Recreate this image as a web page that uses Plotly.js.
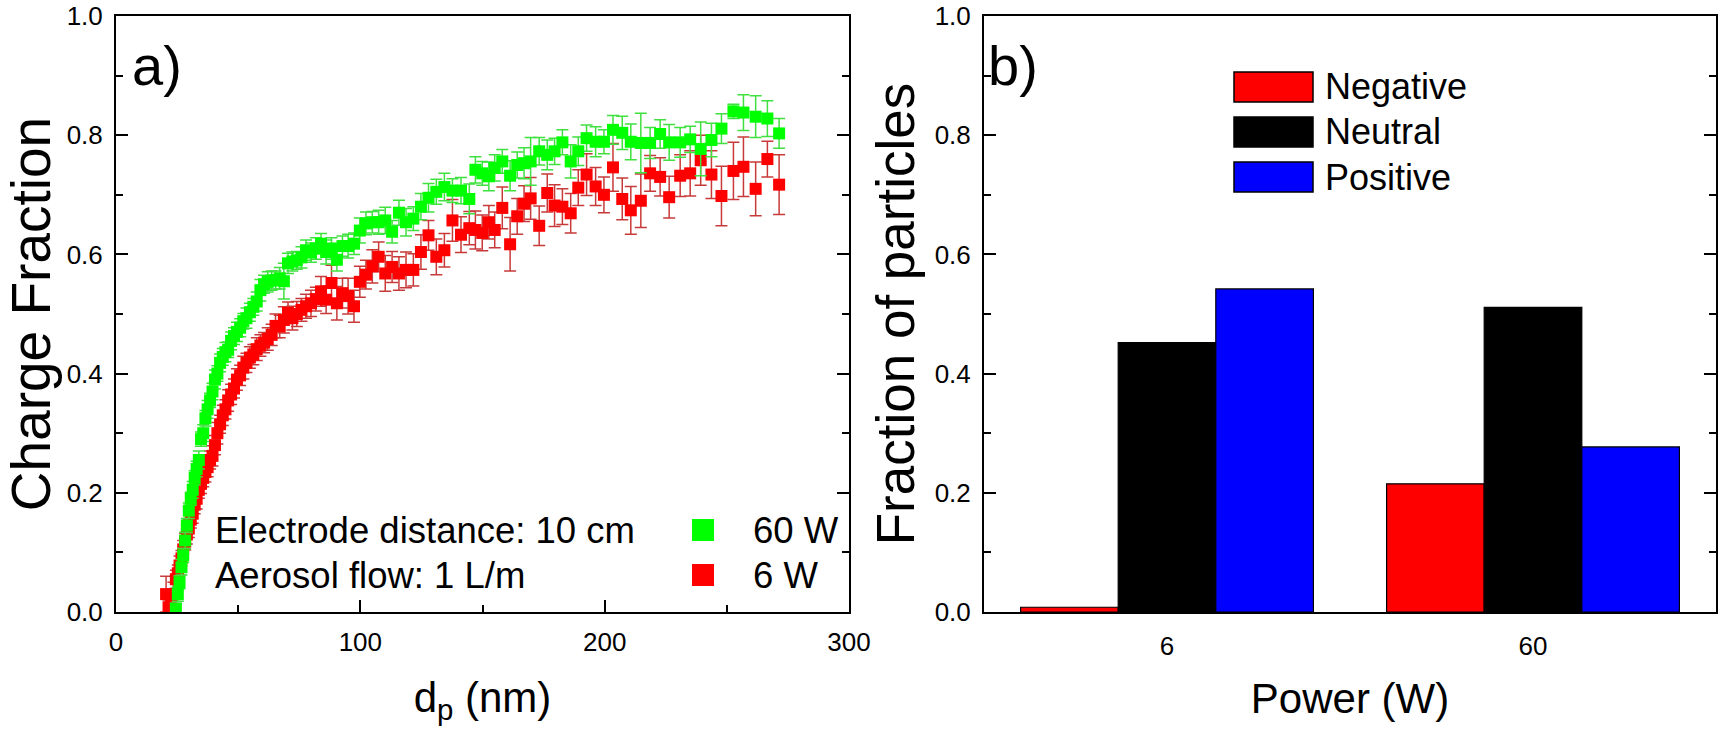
<!DOCTYPE html>
<html>
<head>
<meta charset="utf-8">
<script src="https://cdn.plot.ly/plotly-3.0.1.min.js"></script>
<style>html,body{margin:0;padding:0;background:#fff;}#chart{width:1720px;height:735px;}</style>
</head>
<body>
<div id="chart"></div>
<script>
// ---------- Data: panel a) charge fraction vs particle diameter ----------
const dp = [20.5, 21.5, 22.5, 23.5, 24.5, 25.3, 26.0, 26.8, 27.5, 28.3,
  29.0, 29.8, 30.6, 31.4, 32.2, 33.0, 33.9, 34.8, 35.7, 36.6,
  37.5, 38.5, 39.5, 40.5, 41.5, 42.6, 43.7, 44.8, 45.9, 47.1,
  48.3, 49.5, 50.8, 52.1, 53.4, 54.8, 56.2, 57.6, 59.1, 60.6,
  62.1, 63.7, 65.3, 67.0, 68.7, 70.4, 72.2, 74.0, 75.9, 77.8,
  79.8, 81.8, 83.9, 86.0, 88.2, 90.4, 92.7, 95.0, 97.4, 99.8,
  102.3, 104.9, 107.5, 110.2, 113.0, 115.8, 118.7, 121.7, 124.8, 127.9,
  131.1, 134.4, 137.7, 141.2, 144.6, 147.1, 149.9, 152.6, 155.0, 158.1,
  161.3, 164.2, 167.0, 169.7, 173.2, 176.5, 179.5, 182.7, 186.1, 189.2,
  192.6, 196.3, 199.7, 203.4, 207.2, 210.7, 214.8, 218.6, 222.7, 226.4,
  230.9, 235.0, 239.3, 243.7, 247.8, 252.7, 256.8, 261.8, 266.6, 271.4];

const frac60W = [null, null, null, null, 0.005, 0.03, 0.05, 0.075, 0.095, 0.12,
  0.145, 0.17, 0.19, 0.205, 0.225, 0.24, 0.255, 0.29, 0.30, 0.325,
  0.34, 0.355, 0.37, 0.39, 0.40, 0.418, 0.428, 0.436, 0.44, 0.455,
  0.463, 0.47, 0.477, 0.488, 0.493, 0.503, 0.512, 0.521, 0.54, 0.55,
  0.554, 0.556, 0.557, 0.56, 0.555, 0.585, 0.588, 0.59, 0.595, 0.607,
  0.603, 0.61, 0.618, 0.604, 0.61, 0.591, 0.614, 0.614, 0.618, 0.64,
  0.652, 0.654, 0.654, 0.657, 0.638, 0.67, 0.654, 0.66, 0.68, 0.695,
  0.705, 0.713, 0.707, 0.707, 0.693, 0.742, 0.736, 0.731, 0.745, 0.756,
  0.732, 0.75, 0.753, 0.756, 0.773, 0.767, 0.773, 0.788, 0.756, 0.773,
  0.795, 0.789, 0.789, 0.809, 0.804, 0.789, 0.787, 0.787, 0.802, 0.788,
  0.788, 0.793, 0.777, 0.792, 0.811, 0.84, 0.838, 0.831, 0.828, 0.803];

const err60W = [0, 0, 0, 0, 0.010, 0.012, 0.011, 0.013, 0.012, 0.014,
  0.012, 0.013, 0.011, 0.014, 0.012, 0.013, 0.015, 0.012, 0.014, 0.013,
  0.015, 0.012, 0.014, 0.016, 0.013, 0.015, 0.014, 0.016, 0.013, 0.015,
  0.014, 0.016, 0.015, 0.013, 0.017, 0.015, 0.014, 0.016, 0.018, 0.015,
  0.017, 0.016, 0.015, 0.018, 0.030, 0.017, 0.016, 0.015, 0.018, 0.017,
  0.016, 0.018, 0.017, 0.020, 0.018, 0.019, 0.017, 0.020, 0.018, 0.021,
  0.019, 0.018, 0.020, 0.022, 0.019, 0.021, 0.023, 0.020, 0.022, 0.024,
  0.021, 0.023, 0.020, 0.022, 0.025, 0.022, 0.020, 0.024, 0.022, 0.020,
  0.025, 0.022, 0.026, 0.040, 0.023, 0.025, 0.022, 0.021, 0.028, 0.024,
  0.022, 0.025, 0.020, 0.024, 0.028, 0.030, 0.050, 0.026, 0.024, 0.030,
  0.025, 0.022, 0.045, 0.028, 0.025, 0.012, 0.030, 0.035, 0.030, 0.025];

const frac6W = [0.03, 0.008, 0.012, 0.03, 0.055, 0.065, 0.078, 0.09, 0.105, 0.118,
  0.13, 0.14, 0.155, 0.165, 0.18, 0.19, 0.205, 0.215, 0.225, 0.235,
  0.243, 0.255, 0.262, 0.28, 0.3, 0.315, 0.33, 0.34, 0.355, 0.365,
  0.375, 0.39, 0.397, 0.41, 0.418, 0.427, 0.432, 0.441, 0.447, 0.452,
  0.458, 0.465, 0.48, 0.479, 0.49, 0.502, 0.493, 0.5, 0.507, 0.513,
  0.518, 0.525, 0.538, 0.524, 0.552, 0.518, 0.535, 0.53, 0.513, 0.554,
  0.566, 0.58, 0.596, 0.568, 0.579, 0.568, 0.574, 0.574, 0.604, 0.632,
  0.596, 0.607, 0.657, 0.633, 0.644, 0.641, 0.636, 0.654, 0.641, 0.678,
  0.617, 0.664, 0.685, 0.694, 0.648, 0.703, 0.682, 0.68, 0.669, 0.712,
  0.734, 0.714, 0.7, 0.746, 0.693, 0.674, 0.69, 0.736, 0.73, 0.696,
  0.732, 0.736, 0.758, 0.734, 0.698, 0.74, 0.747, 0.71, 0.76, 0.717];

const err6W = [0.03, 0.012, 0.015, 0.02, 0.015, 0.014, 0.016, 0.013, 0.015, 0.014,
  0.016, 0.015, 0.014, 0.016, 0.015, 0.017, 0.014, 0.016, 0.015, 0.017,
  0.016, 0.015, 0.017, 0.016, 0.018, 0.015, 0.017, 0.016, 0.018, 0.017,
  0.016, 0.018, 0.017, 0.019, 0.016, 0.018, 0.017, 0.019, 0.018, 0.017,
  0.019, 0.018, 0.020, 0.019, 0.022, 0.018, 0.020, 0.021, 0.019, 0.020,
  0.022, 0.020, 0.025, 0.023, 0.030, 0.028, 0.025, 0.030, 0.027, 0.026,
  0.024, 0.028, 0.025, 0.030, 0.026, 0.028, 0.030, 0.027, 0.029, 0.025,
  0.030, 0.028, 0.035, 0.030, 0.028, 0.032, 0.030, 0.028, 0.030, 0.035,
  0.045, 0.030, 0.030, 0.035, 0.033, 0.032, 0.035, 0.030, 0.033, 0.030,
  0.035, 0.032, 0.030, 0.040, 0.035, 0.040, 0.045, 0.030, 0.032, 0.035,
  0.035, 0.038, 0.042, 0.040, 0.050, 0.048, 0.050, 0.045, 0.030, 0.050];

const seriesNamesA = ['60 W', '6 W'];
const noteLines = ['Electrode distance: 10 cm', 'Aerosol flow: 1 L/m'];

// ---------- Data: panel b) fraction of particles by power ----------
const powerCats = ['6', '60'];
const chargeStates = ['Negative', 'Neutral', 'Positive'];
const fracNegative = [0.008, 0.215];
const fracNeutral  = [0.452, 0.511];
const fracPositive = [0.542, 0.277];

// ---------- Styling ----------
const FONT = 'Liberation Sans, Arial, Helvetica, sans-serif';
const W = 1720, H = 735;
const px = x => x / W;
const py = y => 1 - y / H;
const green = '#00ff00', red = '#ff0000';

const traces = [
  {
    x: dp, y: frac6W, type: 'scatter', mode: 'markers', name: seriesNamesA[1],
    xaxis: 'x', yaxis: 'y',
    marker: {symbol: 'square', size: 12, color: red},
    error_y: {type: 'data', array: err6W, visible: true, color: '#c83a3a', thickness: 1.5, width: 6}
  },
  {
    x: dp, y: frac60W, type: 'scatter', mode: 'markers', name: seriesNamesA[0],
    xaxis: 'x', yaxis: 'y',
    marker: {symbol: 'square', size: 12, color: green},
    error_y: {type: 'data', array: err60W, visible: true, color: '#3fe03f', thickness: 1.5, width: 6}
  },
  {
    x: powerCats, y: fracNegative, type: 'bar', name: chargeStates[0], xaxis: 'x2', yaxis: 'y2',
    marker: {color: '#ff0000', line: {color: '#000', width: 1.2}}
  },
  {
    x: powerCats, y: fracNeutral, type: 'bar', name: chargeStates[1], xaxis: 'x2', yaxis: 'y2',
    marker: {color: '#000000', line: {color: '#000', width: 1.2}}
  },
  {
    x: powerCats, y: fracPositive, type: 'bar', name: chargeStates[2], xaxis: 'x2', yaxis: 'y2',
    marker: {color: '#0000ff', line: {color: '#000', width: 1.2}}
  }
];

const commonY = {
  range: [0, 1], dtick: 0.2, tick0: 0, tickformat: '.1f',
  showline: true, linecolor: '#000', linewidth: 2, mirror: 'ticks',
  ticks: 'inside', ticklen: 12, tickwidth: 2, tickcolor: '#000',
  minor: {dtick: 0.1, ticks: 'inside', ticklen: 7, tickwidth: 2, tickcolor: '#000'},
  showgrid: false, zeroline: false, fixedrange: true,
  tickfont: {size: 26, family: FONT, color: '#000'},
  ticklabelstandoff: 6
};

const layout = {
  width: W, height: H,
  margin: {l: 0, r: 0, t: 0, b: 0},
  paper_bgcolor: '#fff', plot_bgcolor: '#fff',
  showlegend: false,
  font: {family: FONT, color: '#000', size: 26},
  barmode: 'group', bargap: 0.2, bargroupgap: 0,
  xaxis: {
    domain: [px(116), px(849)], anchor: 'y', range: [0, 300], dtick: 100, tick0: 0,
    showline: true, linecolor: '#000', linewidth: 2, mirror: true,
    ticks: 'inside', ticklen: 12, tickwidth: 2, tickcolor: '#000',
    minor: {dtick: 50, ticks: 'inside', ticklen: 7, tickwidth: 2, tickcolor: '#000'},
    showgrid: false, zeroline: false,
    tickfont: {size: 26, family: FONT, color: '#000'},
    ticklabelstandoff: 6,
    title: {text: 'd<sub>p</sub> (nm)', font: {size: 42, family: FONT, color: '#000'}, standoff: 26}
  },
  yaxis: Object.assign({}, commonY, {
    domain: [py(612), py(16)], anchor: 'x',
    title: {text: 'Charge Fraction', font: {size: 55, family: FONT, color: '#000'}, standoff: 14}
  }),
  xaxis2: {
    domain: [px(984), px(1716)], anchor: 'y2', type: 'category', range: [-0.5, 1.5],
    showline: true, linecolor: '#000', linewidth: 2, mirror: true,
    ticks: '', showgrid: false, zeroline: false,
    tickfont: {size: 26, family: FONT, color: '#000'},
    ticklabelstandoff: 10,
    title: {text: 'Power (W)', font: {size: 42, family: FONT, color: '#000'}, standoff: 23}
  },
  yaxis2: Object.assign({}, commonY, {
    domain: [py(612), py(16)], anchor: 'x2',
    title: {text: 'Fraction of particles', font: {size: 53, family: FONT, color: '#000'}, standoff: 3}
  }),
  annotations: [],
  shapes: []
};

// panel labels
layout.annotations.push({text: 'a)', xref: 'paper', yref: 'paper', x: px(130), y: py(66),
  xanchor: 'left', yanchor: 'middle', showarrow: false, font: {size: 56, family: FONT, color: '#000'}});
layout.annotations.push({text: 'b)', xref: 'paper', yref: 'paper', x: px(986), y: py(66),
  xanchor: 'left', yanchor: 'middle', showarrow: false, font: {size: 56, family: FONT, color: '#000'}});

// panel a legend / notes
const noteY = [530, 575];
noteLines.forEach((t, i) => {
  layout.annotations.push({text: t, xref: 'paper', yref: 'paper', x: px(213), y: py(noteY[i]),
    xanchor: 'left', yanchor: 'middle', showarrow: false, font: {size: 36.5, family: FONT, color: '#000'}});
});
const legAColors = [green, red];
seriesNamesA.forEach((t, i) => {
  layout.shapes.push({type: 'rect', xref: 'paper', yref: 'paper',
    x0: px(692), x1: px(714), y0: py(noteY[i] + 11), y1: py(noteY[i] - 11),
    fillcolor: legAColors[i], line: {width: 0}});
  layout.annotations.push({text: t, xref: 'paper', yref: 'paper', x: px(751), y: py(noteY[i]),
    xanchor: 'left', yanchor: 'middle', showarrow: false, font: {size: 36.5, family: FONT, color: '#000'}});
});

// panel b legend
const legBColors = ['#ff0000', '#000000', '#0000ff'];
const legBY = [87, 132, 177];
chargeStates.forEach((t, i) => {
  layout.shapes.push({type: 'rect', xref: 'paper', yref: 'paper',
    x0: px(1234), x1: px(1313), y0: py(legBY[i] + 15), y1: py(legBY[i] - 15),
    fillcolor: legBColors[i], line: {color: '#000', width: 1.5}});
  layout.annotations.push({text: t, xref: 'paper', yref: 'paper', x: px(1323), y: py(legBY[i]),
    xanchor: 'left', yanchor: 'middle', showarrow: false, font: {size: 36, family: FONT, color: '#000'}});
});

Plotly.newPlot('chart', traces, layout, {displayModeBar: false, staticPlot: true});
</script>
</body>
</html>
